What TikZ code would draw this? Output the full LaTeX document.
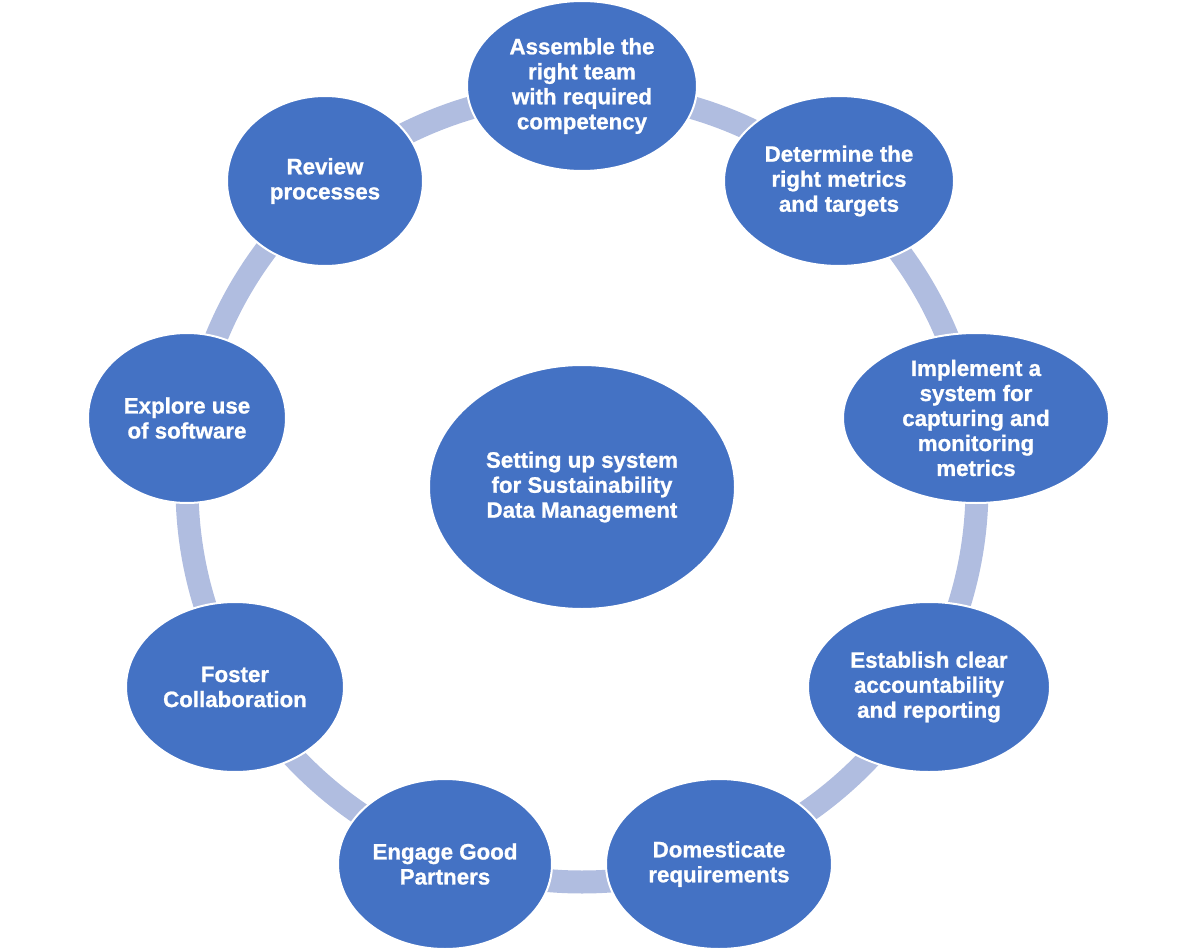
\documentclass[tikz,border=0pt]{standalone}
\usepackage{fontspec}
\setmainfont{Liberation Sans}[BoldFeatures={FakeBold=1}]
\usetikzlibrary{shapes.geometric}
\definecolor{blu}{HTML}{4472C4}
\definecolor{ringc}{RGB}{176,189,224}
\begin{document}
\begin{tikzpicture}[x=1pt,y=-1pt,
 bub/.style={ellipse, fill=blu, draw=white, line width=2pt, inner sep=0pt, text=white,
   font=\fontsize{22.3}{25}\selectfont\bfseries, align=center},
 ring/.style={draw=ringc, line width=23pt}]
\useasboundingbox (0,0) rectangle (1200,952);
\coordinate (c) at (582,487);
\draw[ring] (c) circle[radius=395];
\node[bub, minimum width=306, minimum height=244] (hub) at (582,487) {Setting up system\\for Sustainability\\Data Management};
\node[bub, minimum width=230, minimum height=170] (n1) at (582,86) {Assemble the\\right team\\with required\\competency};
\node[bub, minimum width=230, minimum height=170] (n2) at (839,181) {Determine the\\right metrics\\and targets};
\node[bub, minimum width=266, minimum height=170] (n3) at (976,418) {Implement a\\system for\\capturing and\\monitoring\\metrics};
\node[bub, minimum width=242, minimum height=170] (n4) at (929,687) {Establish clear\\accountability\\and reporting};
\node[bub, minimum width=226, minimum height=170] (n5) at (719,864) {Domesticate\\requirements};
\node[bub, minimum width=214, minimum height=170] (n6) at (445,864) {Engage Good\\Partners};
\node[bub, minimum width=218, minimum height=170] (n7) at (235,687) {Foster\\Collaboration};
\node[bub, minimum width=198, minimum height=170] (n8) at (187,418) {Explore use\\of software};
\node[bub, minimum width=196, minimum height=170] (n9) at (325,181) {Review\\processes};
\end{tikzpicture}
\end{document}
